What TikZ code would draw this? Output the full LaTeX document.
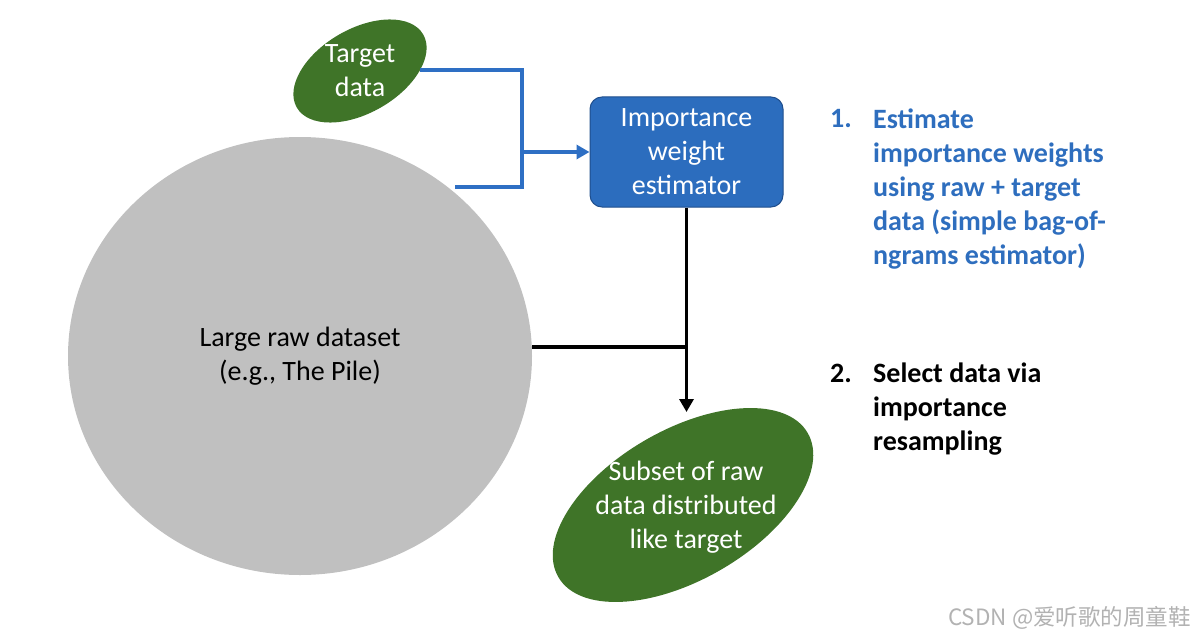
\documentclass[tikz,border=0pt]{standalone}
\usepackage{fontspec}
\setmainfont{Carlito}
\newfontfamily\cjkfont{Noto Sans CJK SC}
\usetikzlibrary{arrows.meta,shapes.geometric}
\definecolor{tgreen}{HTML}{3F7428}
\definecolor{rawgray}{HTML}{C0C0C0}
\definecolor{boxblue}{HTML}{2C6DBE}
\definecolor{boxedge}{HTML}{1F4E8C}
\definecolor{lineblue}{HTML}{2E6FC4}
\definecolor{txtblue}{HTML}{2E6EBE}
\begin{document}
\begin{tikzpicture}[x=1pt,y=-1pt,
  txt/.style={font=\fontsize{28}{34}\selectfont, align=center, inner sep=0},
  steptxt/.style={font=\fontsize{28}{34}\selectfont\bfseries, align=left, inner sep=0, anchor=north west},
  blueline/.style={draw=lineblue, line width=3.5pt},
  blackline/.style={draw=black, line width=3.5pt},
  tip/.style={-{Triangle[length=13pt,width=14pt]}}]
\useasboundingbox (0,0) rectangle (1200,642);
% large raw dataset
\node[ellipse, fill=rawgray, minimum width=464, minimum height=438, inner sep=0] (raw) at (300,356) {};
\node[txt, text=black] (rawtxt) at (raw.center) {Large raw dataset\\(e.g., The Pile)};
% target data
\node[ellipse, fill=tgreen, minimum width=146, minimum height=84, inner sep=0, rotate=30] (tgt) at (360,71) {};
\node[txt, text=white] (tgttxt) at (tgt.center) {Target\\data};
% estimator box
\node[rectangle, rounded corners=12, fill=boxblue, draw=boxedge, line width=1pt, minimum width=193, minimum height=110, text=white, font=\fontsize{28}{34}\selectfont, align=center, inner sep=0] (est) at (686.5,152) {Importance\\weight\\estimator};
% subset ellipse
\node[ellipse, fill=tgreen, minimum width=288, minimum height=150, inner sep=0, rotate=30] (sub) at (683,505) {};
\node[txt, text=white] (subtxt) at (686,507) {Subset of raw\\data distributed\\like target};
% connectors
\coordinate (bj) at (522,152);
\coordinate (rawtop) at (455,187);
\draw[blueline] (tgt.center) ++(60,-1) -| (bj);
\draw[blueline] (rawtop) -| (bj);
\draw[blueline, tip] (bj) -- (est.west);
\coordinate (kj) at (est.south |- 0,347);
\coordinate (subtop) at (est.south |- 0,412);
\draw[blackline] (raw.east) ++(0,-9) -- (kj);
\draw[blackline, tip] (est.south) -- (subtop);
% steps
\node[steptxt, text=txtblue] (n1) at (830,104) {\strut 1.};
\node[steptxt, text=txtblue] (s1) at (873,104) {\strut Estimate\\importance weights\\using raw + target\\data (simple bag-of-\\ngrams estimator)};
\node[steptxt, text=black] (n2) at (830,358) {\strut 2.};
\node[steptxt, text=black] (s2) at (873,358) {\strut Select data via\\importance\\resampling};
% watermark
\node[font=\cjkfont\fontsize{22.5}{26}\selectfont, text=black!30, anchor=east, inner sep=0] (wm) at (1191,618) {CSDN @爱听歌的周童鞋};
\end{tikzpicture}
\end{document}
